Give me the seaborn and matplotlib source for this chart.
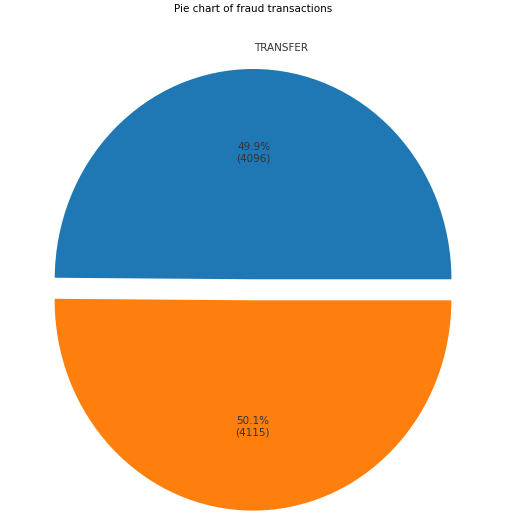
import matplotlib
matplotlib.use("Agg")
import matplotlib.pyplot as plt
import seaborn as sns

# fraud transaction counts by type
labels = ['TRANSFER', 'CASH OUT']
counts = [4096, 4115]
explode = [0.1, 0]

colors = sns.color_palette()[:2]
total = sum(counts)

def fmt(pct):
    return '{:.1f}%\n({:d})'.format(pct, int(round(pct * total / 100.0)))

fig, ax = plt.subplots(figsize=(5.06, 5.19), dpi=100)
wedges, texts, autotexts = ax.pie(counts, labels=labels, explode=explode, colors=colors,
                                  autopct=fmt, textprops={'fontsize': 7.5, 'color': '#333333'})
ax.set_aspect('auto')
ax.set_xlim(-1.25, 1.25)
ax.set_ylim(-1.04, 1.28)
ax.set_title('Pie chart of fraud transactions', fontsize=7.5, pad=14)
plt.subplots_adjust(left=0.01, right=0.99, top=0.94, bottom=0.0)
fig.savefig('out.png')
